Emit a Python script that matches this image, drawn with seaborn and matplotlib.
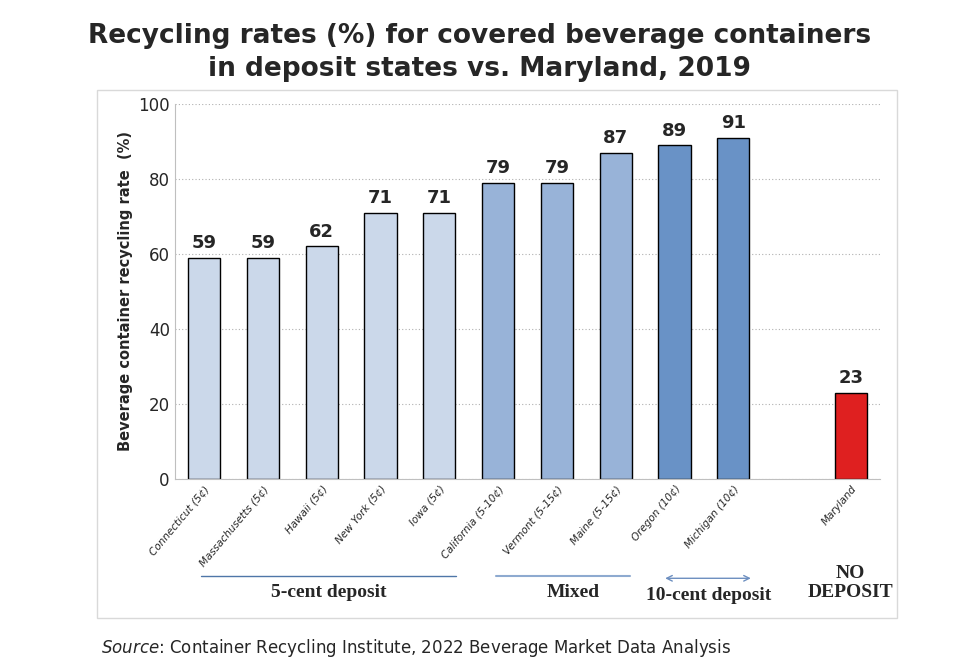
import matplotlib
matplotlib.use("Agg")
import matplotlib.pyplot as plt
import seaborn as sns
import numpy as np
import pandas as pd
from matplotlib.patches import Rectangle

states = ["Connecticut (5¢)", "Massachusetts (5¢)", "Hawaii (5¢)", "New York (5¢)", "Iowa (5¢)",
          "California (5-10¢)", "Vermont (5-15¢)", "Maine (5-15¢)", "Oregon (10¢)", "Michigan (10¢)",
          " ", "Maryland"]
rates = [59, 59, 62, 71, 71, 79, 79, 87, 89, 91, np.nan, 23]
colors = ["#c6d7ef"] * 5 + ["#8eb2e2"] * 3 + ["#5990d5"] * 2 + ["#ffffff", "#ff0000"]

df = pd.DataFrame({"state": states, "rate": rates})

sns.set_style("white")
plt.rcParams["font.family"] = ["DejaVu Sans"]
fig = plt.figure(figsize=(9.6, 6.67), dpi=100)
ax = fig.add_axes([0.182, 0.282, 0.735, 0.562])
fig.patches.append(Rectangle((0.101, 0.073), 0.833, 0.792, transform=fig.transFigure,
                             fill=False, edgecolor="#d9d9d9", linewidth=1))

sns.barplot(data=df, x="state", y="rate", hue="state", palette=colors, legend=False,
            width=0.55, edgecolor="black", linewidth=1, ax=ax)

for i, v in enumerate(rates):
    if not np.isnan(v):
        ax.text(i, v + 1.5, f"{v:.0f}", ha="center", va="bottom", fontsize=13, fontweight="bold")

ax.set_ylim(0, 100)
ax.set_xlim(-0.5, len(states) - 0.5)
ax.set_yticks(range(0, 101, 20))
ax.tick_params(axis="y", labelsize=12, length=0)
ax.yaxis.grid(True, linestyle=(0, (1, 2)), color="#b0b0b0", linewidth=0.8)
ax.set_axisbelow(True)
for s in ["top", "right"]:
    ax.spines[s].set_visible(False)
ax.spines["left"].set_color("#bfbfbf")
ax.spines["bottom"].set_color("#bfbfbf")
ax.set_xticks(np.arange(len(states) + 1) - 0.5, minor=True)
ax.tick_params(axis="x", which="minor", length=5, color="#bfbfbf")
ax.tick_params(axis="x", which="major", length=0)
ax.set_xticks(range(len(states)))
ax.set_xticklabels(states, rotation=50, ha="right", rotation_mode="anchor",
                   fontsize=7.5, style="italic")
ax.set_xlabel("")
ax.set_ylabel("Beverage container recycling rate  (%)", fontsize=10.5, fontweight="bold")

fig.text(0.5, 0.965, "Recycling rates (%) for covered beverage containers\nin deposit states vs. Maryland, 2019",
         ha="center", va="top", fontsize=19, fontweight="bold", linespacing=1.35)

serif = "Liberation Serif"
fig.add_artist(plt.Line2D([0.209, 0.475], [0.137, 0.137], color="#4f76a8", linewidth=1))
fig.add_artist(plt.Line2D([0.517, 0.656], [0.137, 0.137], color="#8eaad0", linewidth=1.5))
fig.text(0.342, 0.112, "5-cent deposit", ha="center", va="center", fontsize=14, fontweight="bold", family=serif)
fig.text(0.597, 0.112, "Mixed", ha="center", va="center", fontsize=14, fontweight="bold", family=serif)
ax.annotate("", xy=(0.785, 0.133), xytext=(0.69, 0.133), xycoords="figure fraction",
            arrowprops=dict(arrowstyle="<->", color="#6d8fc0", linewidth=1))
fig.text(0.738, 0.107, "10-cent deposit", ha="center", va="center", fontsize=14, fontweight="bold", family=serif)
fig.text(0.886, 0.126, "NO\nDEPOSIT", ha="center", va="center", fontsize=14, fontweight="bold",
         family=serif, linespacing=1.1)

fig.text(0.105, 0.028, "$\\it{Source}$: Container Recycling Institute, 2022 Beverage Market Data Analysis",
         ha="left", va="center", fontsize=12)

fig.savefig("out.png", dpi=100)
